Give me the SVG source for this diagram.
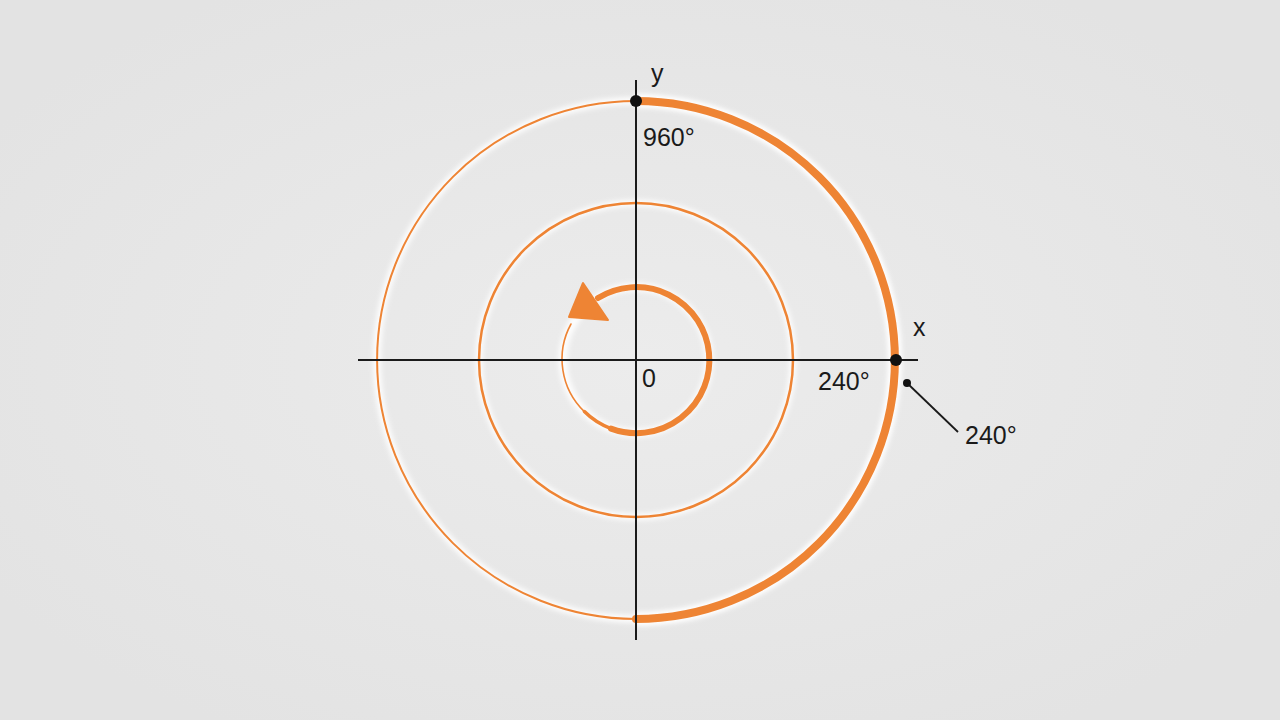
<svg xmlns="http://www.w3.org/2000/svg" width="1280" height="720" viewBox="0 0 1280 720">
<defs>
<radialGradient id="bg" cx="50%" cy="50%" r="60%">
<stop offset="0" stop-color="#ececec"/>
<stop offset="1" stop-color="#e3e3e3"/>
</radialGradient>
<filter id="glow" x="-10%" y="-10%" width="120%" height="120%"><feGaussianBlur stdDeviation="2.5"/></filter>
<style>
.glow{fill:none;stroke:#ffffff;stroke-opacity:0.9;filter:url(#glow)}
.orb{fill:none;stroke:#ee8434;stroke-linecap:round}
.axis{stroke:#1a1a1a;stroke-width:2}
.lbl{font-family:"Liberation Sans",Arial,sans-serif;font-size:25px;fill:#1a1a1a}
</style>
</defs>
<rect width="1280" height="720" fill="url(#bg)"/>
<g id="glows">
<circle class="glow" cx="636" cy="360" r="259" stroke-width="8"/>
<path class="glow" d="M636,101 A259,259 0 0 1 636,619" stroke-width="14"/>
<circle class="glow" cx="636" cy="360" r="157" stroke-width="7"/>
<circle class="glow" cx="636" cy="360" r="73" stroke-width="9"/>
</g>
<g id="outer-circle">
<path class="orb" d="M636,101 A259,259 0 0 0 636,619" stroke-width="2"/>
<path class="orb" d="M636,101 A259,259 0 0 1 636,619" stroke-width="8"/>
</g>
<g id="middle-circle">
<circle class="orb" cx="636" cy="360" r="157" stroke-width="2.5"/>
</g>
<g id="inner-spiral">
<path class="orb" d="M598,298 A73,73 0 1 1 611,428.6" stroke-width="6"/>
<path class="orb" d="M611,428.6 A73,73 0 0 1 584.4,411.6" stroke-width="3.5"/>
<path class="orb" d="M584.4,411.6 A73,73 0 0 1 571,324" stroke-width="1.6"/>
<polygon points="583,283 569,317 608,320" fill="#ee8434" stroke="#ee8434" stroke-width="2" stroke-linejoin="round"/>
</g>
<g id="axes">
<line class="axis" x1="358" y1="360" x2="918" y2="360"/>
<line class="axis" x1="636" y1="80" x2="636" y2="640"/>
</g>
<g id="connectors">
<line x1="907" y1="383" x2="958" y2="432" stroke="#1a1a1a" stroke-width="1.8"/>
</g>
<g id="points">
<circle cx="636" cy="101" r="6" fill="#111"/>
<circle cx="896" cy="360" r="6" fill="#111"/>
<circle cx="907" cy="383" r="4" fill="#111"/>
</g>
<g id="labels">
<text class="lbl" x="651" y="82">y</text>
<text class="lbl" x="913" y="336">x</text>
<text class="lbl" x="643" y="146">960°</text>
<text class="lbl" x="642" y="387">0</text>
<text class="lbl" x="818" y="390">240°</text>
<text class="lbl" x="965" y="444">240°</text>
</g>
</svg>
